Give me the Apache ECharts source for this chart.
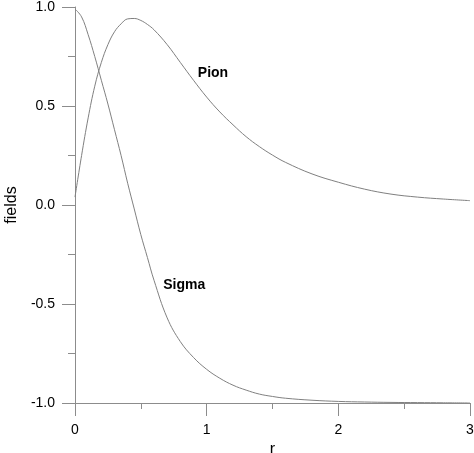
<!DOCTYPE html>
<html>
<head>
<meta charset="utf-8">
<script src="https://cdn.jsdelivr.net/npm/echarts@6/dist/echarts.min.js"></script>
<style>
html,body{margin:0;padding:0;background:#fff;}
#chart{width:474px;height:453px;}
</style>
</head>
<body>
<div id="chart"></div>
<script>
const rValues = [0,0.05,0.1,0.15,0.2,0.25,0.3,0.35,0.4,0.45,0.5,0.55,0.6,0.7,0.8,0.9,1.0,1.1,1.2,1.3,1.4,1.5,1.6,1.8,2.0,2.2,2.4,2.6,2.8,3.0];
const sigmaValues = [0.99,0.95,0.86,0.75,0.63,0.51,0.38,0.25,0.11,-0.02,-0.15,-0.265,-0.38,-0.57,-0.69,-0.77,-0.83,-0.875,-0.91,-0.935,-0.955,-0.967,-0.976,-0.986,-0.992,-0.995,-0.997,-0.998,-0.999,-1.0];
const pionValues = [0.04,0.25,0.44,0.6,0.72,0.81,0.875,0.915,0.94,0.942,0.932,0.912,0.885,0.81,0.72,0.63,0.545,0.47,0.405,0.345,0.295,0.252,0.215,0.157,0.115,0.08,0.055,0.04,0.03,0.022];
const xTicks = {min:0, max:3, interval:1};
const yTicks = {min:-1, max:1, interval:0.5};
const seriesLabels = [
  {text:'Pion', r:1.048, v:0.667},
  {text:'Sigma', r:0.83, v:-0.404}
];

const font = '"Liberation Sans", Arial, sans-serif';
const axisColor = '#8c8c8c';
const lineColor = '#808080';

const chart = echarts.init(document.getElementById('chart'), null, {renderer:'canvas'});
const pairs = vals => rValues.map((r,i)=>[r, vals[i]]);

const option = {
  animation:false,
  backgroundColor:'#fff',
  grid:{left:75, right:4, top:7, bottom:50, containLabel:false, outerBoundsMode:'none'},
  xAxis:{
    type:'value', min:xTicks.min, max:xTicks.max, interval:xTicks.interval,
    name:'r', nameLocation:'middle', nameGap:30,
    nameTextStyle:{fontFamily:font, fontSize:16, color:'#000'},
    axisLine:{show:true, onZero:false, lineStyle:{color:axisColor, width:1}},
    axisTick:{show:true, inside:false, length:13, lineStyle:{color:axisColor, width:1}},
    minorTick:{show:true, splitNumber:2, length:6, lineStyle:{color:axisColor, width:1}},
    axisLabel:{margin:20, fontFamily:font, fontSize:14, color:'#000'},
    splitLine:{show:false}
  },
  yAxis:{
    type:'value', min:yTicks.min, max:yTicks.max, interval:yTicks.interval,
    name:'fields', nameLocation:'middle', nameGap:53,
    nameTextStyle:{fontFamily:font, fontSize:16, color:'#000'},
    axisLine:{show:true, onZero:false, lineStyle:{color:axisColor, width:1}},
    axisTick:{show:true, inside:false, length:13, lineStyle:{color:axisColor, width:1}},
    minorTick:{show:true, splitNumber:2, length:7, lineStyle:{color:axisColor, width:1}},
    axisLabel:{margin:20, fontFamily:font, fontSize:14, color:'#000',
      formatter: v => v.toFixed(1)},
    splitLine:{show:false}
  },
  series:[
    {name:'Sigma', type:'line', data:pairs(sigmaValues), smooth:0.4, showSymbol:false,
     lineStyle:{color:lineColor, width:1}},
    {name:'Pion', type:'line', data:pairs(pionValues), smooth:0.4, showSymbol:false,
     lineStyle:{color:lineColor, width:1}}
  ]
};
chart.setOption(option);

chart.setOption({
  graphic: seriesLabels.map(l => {
    const p = chart.convertToPixel({gridIndex:0}, [l.r, l.v]);
    return {type:'text', x:p[0], y:p[1], style:{text:l.text, font:'bold 14px ' + font, fill:'#000', align:'center', verticalAlign:'middle'}};
  })
});
</script>
</body>
</html>
